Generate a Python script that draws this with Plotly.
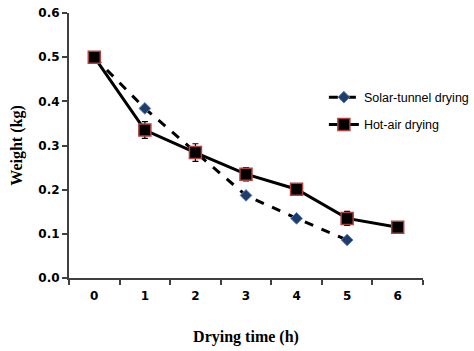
import plotly.graph_objects as go

time_h = ["0", "1", "2", "3", "4", "5", "6"]
solar_weight = [0.500, 0.384, 0.285, 0.187, 0.135, 0.086]
solar_err = [0.0, 0.004, 0.004, 0.006, 0.004, 0.004]
hot_weight = [0.500, 0.335, 0.284, 0.235, 0.201, 0.135, 0.115]
hot_err = [0.0, 0.019, 0.020, 0.015, 0.005, 0.016, 0.003]
y_ticks = [0.0, 0.1, 0.2, 0.3, 0.4, 0.5, 0.6]

fig = go.Figure()
fig.add_trace(go.Scatter(
    x=time_h[:len(solar_weight)], y=solar_weight, name="Solar-tunnel drying",
    mode="lines+markers", legendgroup="a",
    line=dict(color="black", width=3, dash="dash"),
    marker=dict(symbol="diamond", size=9, color="#1F3D6B", line=dict(color="#5B7DB5", width=1)),
    error_y=dict(type="data", array=solar_err, color="black", thickness=1, width=3),
))
fig.add_trace(go.Scatter(
    x=time_h, y=hot_weight, name="Hot-air drying",
    mode="lines+markers", legendgroup="b",
    line=dict(color="black", width=3),
    marker=dict(symbol="square", size=12, color="black", line=dict(color="#B0413E", width=1.5)),
    error_y=dict(type="data", array=hot_err, color="black", thickness=1.2, width=3),
))

tick_font = dict(family="DejaVu Sans", size=12, color="black", weight="bold")
title_font = dict(family="Liberation Serif, Times New Roman", size=16, color="black", weight="bold")

fig.update_layout(
    width=474, height=351,
    margin=dict(l=69, r=51, t=13, b=73, autoexpand=False),
    paper_bgcolor="white", plot_bgcolor="white",
    showlegend=True,
    legend=dict(x=0.72, y=0.63, xanchor="left", yanchor="middle",
                font=dict(family="Liberation Sans, Arial", size=12.5, color="black"),
                bgcolor="rgba(0,0,0,0)", tracegroupgap=8, itemwidth=30),
    xaxis=dict(
        type="category", categoryorder="array", categoryarray=time_h,
        range=[-0.5, 6.5], tickson="boundaries", automargin=False,
        showline=True, linecolor="#404040", linewidth=2,
        ticks="outside", ticklen=5, tickcolor="#404040", tickwidth=1.5,
        ticklabelstandoff=6,
        showgrid=False, zeroline=False,
        tickfont=tick_font,
        title=dict(text="Drying time (h)", standoff=28, font=title_font),
    ),
    yaxis=dict(
        range=[0, 0.6], tickvals=y_ticks, tickformat=".1f", automargin=False,
        showline=True, linecolor="#404040", linewidth=2,
        ticks="outside", ticklen=5, tickcolor="#404040", tickwidth=1.5,
        showgrid=False, zeroline=False,
        tickfont=tick_font,
        title=dict(text="Weight (kg)", standoff=12, font=title_font),
    ),
)

fig.write_html("out.html")
